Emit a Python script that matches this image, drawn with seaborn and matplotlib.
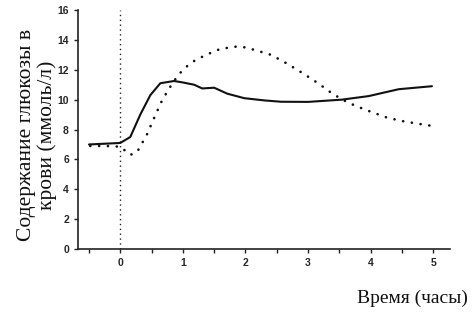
import matplotlib
matplotlib.use("Agg")
import matplotlib.pyplot as plt
import seaborn as sns
import pandas as pd
import numpy as np

# Solid curve
t_solid = [-0.5, -0.25, 0.0, 0.16, 0.32, 0.48, 0.64, 0.86, 1.0, 1.18, 1.31, 1.5, 1.71, 1.98, 2.3, 2.57, 3.0, 3.54, 3.97, 4.45, 4.98]
g_solid = [7.0, 7.05, 7.1, 7.5, 9.0, 10.3, 11.1, 11.25, 11.15, 11.0, 10.75, 10.8, 10.4, 10.1, 9.95, 9.86, 9.85, 10.0, 10.24, 10.7, 10.9]

# Dotted curve
t_dot = [-0.48, -0.25, 0.0, 0.16, 0.27, 0.35, 0.43, 0.55, 0.67, 0.76, 0.85, 0.95, 1.07, 1.2, 1.4, 1.6, 1.85, 2.0, 2.17, 2.41, 2.67, 2.92, 3.16, 3.4, 3.64, 3.9, 4.26, 4.5, 4.74, 5.0]
g_dot = [6.9, 6.9, 6.85, 6.3, 6.5, 7.1, 7.7, 8.86, 9.97, 10.6, 11.2, 11.76, 12.25, 12.65, 13.05, 13.4, 13.55, 13.5, 13.3, 13.0, 12.4, 11.76, 11.1, 10.37, 9.8, 9.35, 8.8, 8.57, 8.4, 8.23]

x_ticks = [0, 1, 2, 3, 4, 5]
y_ticks = [0, 2, 4, 6, 8, 10, 12, 14, 16]

sns.set_theme(style="ticks")
plt.rcParams['font.family'] = ['Liberation Sans', 'DejaVu Sans']

fig = plt.figure(figsize=(4.74, 3.14), dpi=100)
ax = fig.add_axes([0.1646, 0.207, 0.785, 0.761])

df_s = pd.DataFrame({"t": t_solid, "g": g_solid})
df_d = pd.DataFrame({"t": t_dot, "g": g_dot})
sns.lineplot(data=df_s, x="t", y="g", ax=ax, color="#111111", lw=1.5)
sns.lineplot(data=df_d, x="t", y="g", ax=ax, color="#111111", lw=1.9,
             linestyle=(0, (0.05, 3.3)), dash_capstyle="round")
ax.axvline(0, color="#222222", lw=1.0, linestyle=(0, (1, 2.5)))

ax.set_xlim(-0.675, 5.27)
ax.set_ylim(0, 16)
ax.set_xticks(x_ticks)
ax.set_xticks(np.arange(-0.5, 5.3, 0.5), minor=True)
ax.set_yticks(y_ticks)
ax.tick_params(axis="both", which="major", labelsize=7.5, length=3, width=1, color="#222222")
ax.tick_params(axis="x", which="minor", length=3, width=1, color="#222222")
for lab in ax.get_xticklabels() + ax.get_yticklabels():
    lab.set_fontweight("bold")
for s in ["top", "right"]:
    ax.spines[s].set_visible(False)
for s in ["left", "bottom"]:
    ax.spines[s].set_linewidth(1.2)
    ax.spines[s].set_color("#222222")

ax.set_xlabel("")
ax.set_ylabel("")
fig.text(0.078, 0.57, "Содержание глюкозы в\nкрови (ммоль/л)", rotation=90,
         ha="center", va="center", fontsize=15.5, family="Liberation Serif",
         linespacing=1.1, color="#111111")
fig.text(0.988, 0.05, "Время (часы)", ha="right", va="center",
         fontsize=14, family="Liberation Serif", color="#111111")

fig.savefig("out.png", dpi=100)
